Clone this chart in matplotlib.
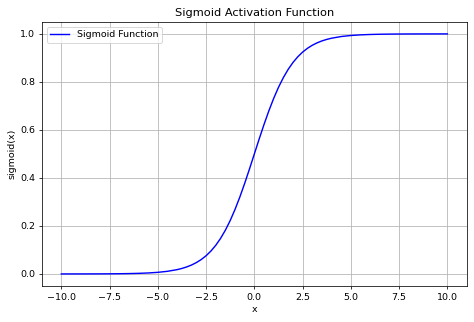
import matplotlib
matplotlib.use('Agg')
import matplotlib.pyplot as plt

dbl_dpi = 68.0

x_vals = [-10.0, -9.5, -9.0, -8.5, -8.0, -7.5, -7.0, -6.5, -6.0, -5.5, -5.0, -4.5,
          -4.0, -3.75, -3.5, -3.25, -3.0, -2.75, -2.5, -2.25, -2.0, -1.75, -1.5, -1.25,
          -1.0, -0.75, -0.5, -0.25, 0.0, 0.25, 0.5, 0.75, 1.0, 1.25, 1.5, 1.75,
          2.0, 2.25, 2.5, 2.75, 3.0, 3.25, 3.5, 3.75, 4.0,
          4.5, 5.0, 5.5, 6.0, 6.5, 7.0, 7.5, 8.0, 8.5, 9.0, 9.5, 10.0]

# values
y_vals = [0.0000454, 0.0000749, 0.0001234, 0.0002035, 0.0003354, 0.0005530, 0.0009111,
          0.0015011, 0.0024726, 0.0040701, 0.0066929, 0.0109869,
          0.0179862, 0.0229774, 0.0293122, 0.0373269, 0.0474259, 0.0601160, 0.0758582,
          0.0953403, 0.1192029, 0.1480472, 0.1824255, 0.2227001,
          0.2689414, 0.3208213, 0.3775407, 0.4378235, 0.5, 0.5621765, 0.6224593, 0.6791787,
          0.7310586, 0.7772999, 0.8175745, 0.8519528,
          0.8807971, 0.9046597, 0.9241418, 0.9398840, 0.9525741, 0.9626731, 0.9706878,
          0.9770226, 0.9820138,
          0.9890131, 0.9933071, 0.9959299, 0.9975274, 0.9984989, 0.9990889, 0.9994470,
          0.9996646, 0.9997965, 0.9998766, 0.9999251, 0.9999546]

fig = plt.figure(figsize=(474 / dbl_dpi, 322 / dbl_dpi), dpi=dbl_dpi)
ax = fig.add_axes([0.0886, 0.112, 0.896, 0.820])

ax.plot(x_vals, y_vals, color='blue', label='Sigmoid Function')
ax.set_title('Sigmoid Activation Function')
ax.set_xlabel('x')
ax.set_ylabel('sigmoid(x)')
ax.grid(True)
ax.legend(loc='upper left')

fig.savefig('out.png', dpi=dbl_dpi)
